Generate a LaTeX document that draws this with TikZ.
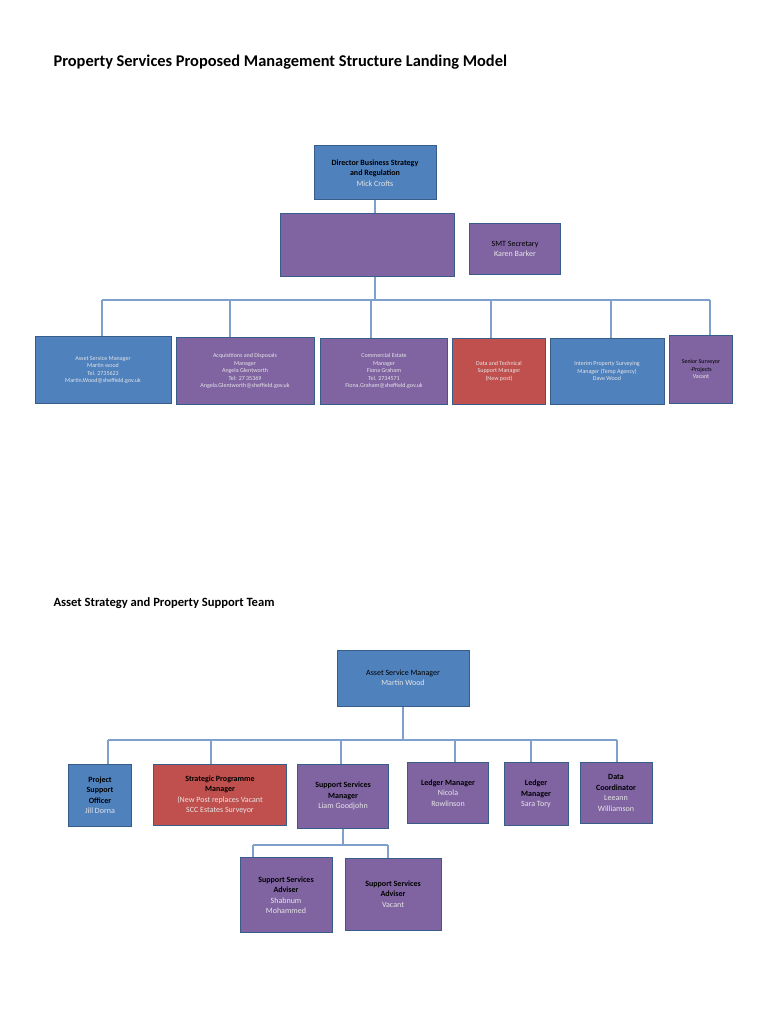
\documentclass[tikz,border=0pt]{standalone}
\usepackage{fontspec}
\setmainfont{Carlito}
\usepackage{xcolor}
\definecolor{boxblue}{HTML}{4F81BD}
\definecolor{boxpurple}{HTML}{8064A2}
\definecolor{boxred}{HTML}{C0504D}
\definecolor{edge}{HTML}{385D8A}
\definecolor{linkblue}{HTML}{7FA0CC}
\usetikzlibrary{calc}
\newcommand\wt[1]{{\mdseries\color{white!90!black}#1}}

\begin{document}
\begin{tikzpicture}[
    x=1pt, y=-1pt,
    box/.style={rectangle, draw=edge, line width=1pt, align=center, inner sep=1pt, font=\fontsize{6}{7.5}\selectfont, text=white!90!black},
    big/.style={box, font=\bfseries\fontsize{8}{10.5}\selectfont, text=black},
    blue/.style={fill=boxblue},
    purple/.style={fill=boxpurple},
    red/.style={fill=boxred},
    line/.style={draw=linkblue, line width=2pt}
]
    \useasboundingbox (0,0) rectangle (768,1024);
    % Titles
    \node [anchor=west, font=\bfseries\fontsize{16.4}{18}\selectfont] (title) at (50,62) {Property Services Proposed Management Structure Landing Model};
    \node [anchor=west, font=\bfseries\fontsize{12.6}{14}\selectfont] (title2) at (50,603) {Asset Strategy and Property Support Team};

    % Upper chart
    \node [big, blue, minimum width=122, minimum height=54] (director) at (375,173) {Director Business Strategy\\and Regulation\\\wt{Mick Crofts}};
    \node [box, purple, minimum width=174, minimum height=63] (head) at (367,245) {};
    \node [big, purple, minimum width=91, minimum height=50, font=\fontsize{8}{10}\selectfont] (smt) at (515,249) {SMT Secretary\\\wt{Karen Barker}};
    \node [box, blue, minimum width=136, minimum height=67] (asset) at (103,370) {Asset Service Manager\\Martin wood\\Tel. 2735623\\Martin.Wood@sheffield.gov.uk};
    \node [box, purple, minimum width=138, minimum height=67] (acq) at (245,371) {Acquisitions and Disposals\\Manager\\Angela Glentworth\\Tel: 27 35369\\Angela.Glentworth@sheffield.gov.uk};
    \node [box, purple, minimum width=127, minimum height=66] (commercial) at (384,371) {Commercial Estate\\Manager\\Fiona Graham\\Tel. 2734571\\Fiona.Graham@sheffield.gov.uk};
    \node [box, red, minimum width=93, minimum height=66] (data) at (499,371) {Data and Technical\\Support Manager\\(New post)};
    \node [box, blue, minimum width=114, minimum height=66] (interim) at (607,371) {Interim Property Surveying\\Manager (Temp Agency)\\Dave Wood};
    \node [box, purple, minimum width=63, minimum height=68, text=black] (senior) at (701,369) {Senior Surveyor\\-Projects\\\wt{Vacant}};

    \path [line] (director) -- (director|-head.north);
    \coordinate (bus) at (375,300);
    \path [line] (head.south-|bus) -- (bus);
    \path [line] (102,300) -- (710,300);
    \foreach \n/\x in {asset/102, acq/230, commercial/371, data/491, interim/611, senior/710}
        \path [line] (\x,300) -- (\x,0|-\n.north);

    % Lower chart
    \node [big, blue, minimum width=132, minimum height=56, font=\fontsize{8}{10}\selectfont] (asm) at (403,678) {Asset Service Manager\\\wt{Martin Wood}};
    \node [big, blue, minimum width=63, minimum height=62] (pso) at (100,795) {Project\\Support\\Officer\\\wt{Jill Dorna}};
    \node [big, red, minimum width=133, minimum height=61] (strategic) at (220,795) {Strategic Programme\\Manager\\\wt{(New Post replaces Vacant}\\\wt{SCC Estates Surveyor}};
    \node [big, purple, minimum width=91, minimum height=64] (ssm) at (343,796) {Support Services\\Manager\\\wt{Liam Goodjohn}};
    \node [big, purple, minimum width=81, minimum height=61] (ledger1) at (448,793) {Ledger Manager\\\wt{Nicola}\\\wt{Rowlinson}};
    \node [big, purple, minimum width=64, minimum height=63] (ledger2) at (536,794) {Ledger\\Manager\\\wt{Sara Tory}};
    \node [big, purple, minimum width=72, minimum height=61] (coord) at (616,793) {Data\\Coordinator\\\wt{Leeann}\\\wt{Williamson}};
    \node [big, purple, minimum width=92, minimum height=75] (adv1) at (286,895) {Support Services\\Adviser\\\wt{Shabnum}\\\wt{Mohammed}};
    \node [big, purple, minimum width=96, minimum height=72] (adv2) at (393,894) {Support Services\\Adviser\\\wt{Vacant}};

    \path [line] (asm.south) -- (403,740);
    \path [line] (108,740) -- (617,740);
    \foreach \n/\x in {pso/108, strategic/211, ssm/341, ledger1/455, ledger2/531, coord/617}
        \path [line] (\x,740) -- (\x,0|-\n.north);
    \path [line] (ssm.south) -- (343,845);
    \path [line] (253,845) -- (388,845);
    \path [line] (253,845) -- (253,0|-adv1.north);
    \path [line] (388,845) -- (388,0|-adv2.north);
\end{tikzpicture}
\end{document}
